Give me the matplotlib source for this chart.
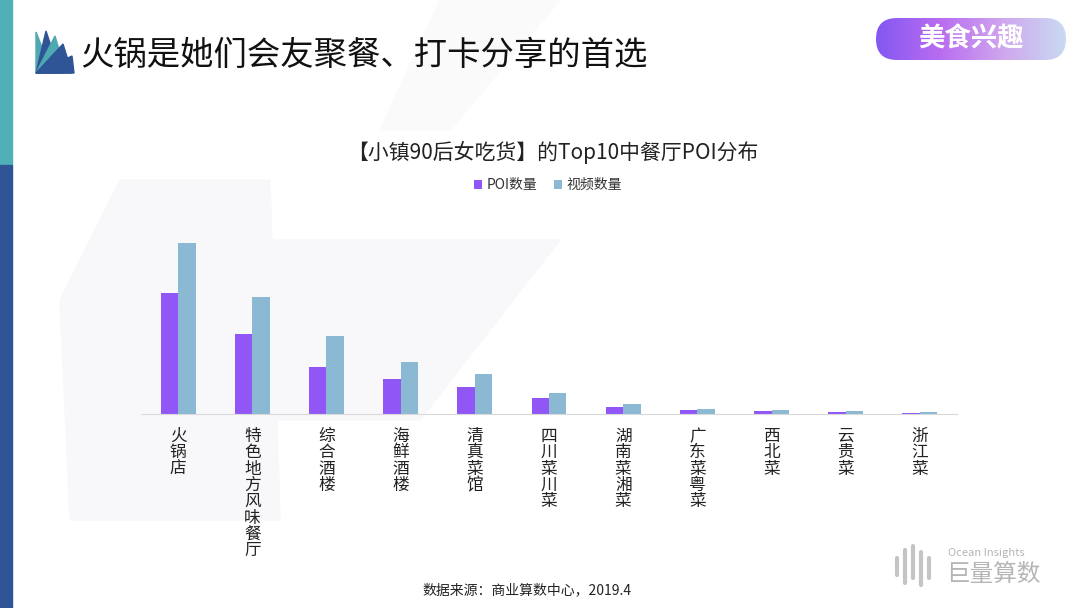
import numpy as np
import matplotlib
matplotlib.use("Agg")
import matplotlib.pyplot as plt
from matplotlib.patches import Rectangle, Polygon, FancyBboxPatch

plt.rcParams['font.family'] = ['Noto Sans CJK SC', 'DejaVu Sans']

# data
categories = ["火锅店", "特色 地方风味餐厅", "综合酒楼", "海鲜酒楼", "清真菜馆",
              "四川菜川菜", "湖南菜湘菜", "广东菜粤菜", "西北菜", "云贵菜", "浙江菜"]
poi_count = [121, 80, 47, 35, 27, 16, 7, 4, 3, 2.3, 1.5]
video_count = [171, 117, 78, 52, 40, 21, 10.5, 5.5, 3.8, 3.2, 1.8]
series_names = ["POI数量", "视频数量"]

main_title = "火锅是她们会友聚餐、打卡分享的首选"
chart_title = "【小镇90后女吃货】的Top10中餐厅POI分布"
tag_text = "美食兴趣"
source_text = "数据来源：商业算数中心，2019.4"

W, H = 1080, 608
fig = plt.figure(figsize=(W / 100, H / 100), dpi=100)

# background layer in pixel coordinates
bg = fig.add_axes([0, 0, 1, 1])
bg.set_xlim(0, W)
bg.set_ylim(H, 0)
bg.axis("off")

# faint watermark shapes
shade = "#f8f8fa"
bg.add_patch(Polygon([(60, 300), (120, 180), (270, 180), (280, 520), (70, 520)],
                     closed=True, color=shade, zorder=0))
bg.add_patch(Polygon([(240, 240), (560, 240), (420, 420), (270, 420)],
                     closed=True, color=shade, zorder=0))
bg.add_patch(Polygon([(440, 0), (560, 0), (450, 130), (380, 130)],
                     closed=True, color="#fafafb", zorder=0))

# left stripe
bg.add_patch(Rectangle((0, 0), 12, 165, color="#4fb0b8", zorder=1))
bg.add_patch(Rectangle((0, 165), 12, H - 165, color="#2f5597", zorder=1))

# logo fan
blades = [
    ([(36, 73), (36, 32), (52, 73)], "#4fa9b3"),
    ([(36, 73), (46, 31), (60, 73)], "#2f5597"),
    ([(36, 73), (55, 36), (66, 73)], "#4fa9b3"),
    ([(36, 73), (63, 44), (72, 73)], "#2f5597"),
    ([(36, 73), (72, 56), (74, 73)], "#2f5597"),
]
for pts, c in blades:
    bg.add_patch(Polygon(pts, closed=True, color=c, zorder=2))

bg.text(80, 56, main_title, fontsize=24, color="#111111", va="center", ha="left")

# tag pill with gradient
grad = np.linspace(0, 1, 256).reshape(1, -1)
cmap = matplotlib.colors.LinearSegmentedColormap.from_list(
    "pill", ["#8457f2", "#b86cf0", "#cfa6ee", "#c9daf2"])
pill = FancyBboxPatch((876, 18), 190, 42, boxstyle="round,pad=0,rounding_size=21",
                      transform=bg.transData, facecolor="none", edgecolor="none")
bg.add_patch(pill)
im = bg.imshow(grad, cmap=cmap, extent=(876, 1066, 60, 18), aspect="auto", zorder=3)
im.set_clip_path(pill)
bg.text(971, 39, tag_text, fontsize=19, color="white", weight="bold",
        ha="center", va="center", zorder=4)

bg.text(553, 152, chart_title, fontsize=15, color="#222222", ha="center", va="center")
bg.text(527, 590, source_text, fontsize=10, color="#222222", ha="center", va="center")

# Ocean Insights watermark
for x, y0, y1 in [(897, 558, 575), (905, 550, 583), (913, 546, 578),
                  (921, 552, 585), (929, 558, 578)]:
    bg.plot([x, x], [y0, y1], color="#c4c4c4", lw=3, solid_capstyle="round", zorder=2)
bg.text(948, 553, "Ocean Insights", fontsize=8, color="#b5b5b5", ha="left", va="center")
bg.text(946, 574, "巨量算数", fontsize=17, color="#b5b5b5", ha="left", va="center")

# chart axes
ax_left, ax_right, ax_base, ax_top = 141, 957, 414, 234
ax = fig.add_axes([ax_left / W, (H - ax_base) / H, (ax_right - ax_left) / W,
                   (ax_base - ax_top) / H])
ax.patch.set_alpha(0)
x = np.arange(len(categories))
bw = 0.235
ax.bar(x - bw / 2, poi_count, bw, color="#9157f6", label=series_names[0])
ax.bar(x + bw / 2, video_count, bw, color="#8bb9d4", label=series_names[1])
ax.set_xlim(-0.5, len(categories) - 0.5)
ax.set_ylim(0, 180)
for s in ["top", "right", "left"]:
    ax.spines[s].set_visible(False)
ax.spines["bottom"].set_color("#d9d9d9")
ax.set_yticks([])
ax.set_xticks(x)
ax.set_xticklabels(["\n".join(c.replace(" ", "")) for c in categories],
                   fontsize=12, color="#222222", linespacing=0.95, va="top")
ax.tick_params(axis="x", length=0, pad=10)

leg = fig.legend(loc="center", bbox_to_anchor=(548 / W, 1 - 185 / H), ncol=2,
                 frameon=False, fontsize=10, handlelength=0.6, handleheight=0.6,
                 columnspacing=1.2, handletextpad=0.3)
for t in leg.get_texts():
    t.set_color("#333333")

fig.savefig("out.png", dpi=100)
